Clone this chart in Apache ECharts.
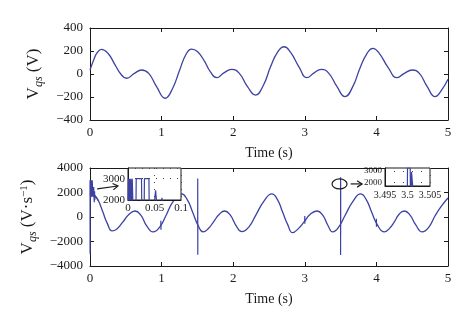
<!DOCTYPE html>
<html>
<head>
<meta charset="utf-8">
<script src="https://cdn.jsdelivr.net/npm/echarts@6/dist/echarts.min.js"></script>
<style>
  html, body { margin: 0; padding: 0; background: #fff; }
  #chart { width: 474px; height: 330px; }
</style>
</head>
<body>
<div id="chart"></div>
<script>
// Stator q-axis voltage V_qs (V) against time (s)
const topTime = [0, 0.05, 0.1, 0.16, 0.25, 0.35, 0.43, 0.51, 0.62, 0.72, 0.82, 0.93, 1.05, 1.15, 1.25, 1.34, 1.42, 1.5, 1.6, 1.68, 1.77, 1.87, 1.98, 2.08, 2.2, 2.31, 2.42, 2.52, 2.62, 2.71, 2.8, 2.92, 3.03, 3.13, 3.23, 3.33, 3.45, 3.56, 3.67, 3.77, 3.87, 3.95, 4.04, 4.16, 4.29, 4.39, 4.5, 4.6, 4.71, 4.82, 4.91, 5];
const topVolt = [35, 120, 185, 215, 180, 80, 0, -37, 5, 35, 5, -110, -211, -130, 30, 170, 217, 195, 110, 20, -32, 10, 40, 10, -110, -183, -100, 60, 190, 237, 190, 60, -32, 10, 41, 10, -110, -197, -110, 50, 180, 223, 180, 60, -32, 5, 35, 5, -110, -197, -140, -46];

// Rate of change of V_qs (V·s^-1), smooth part
const rateTime = [0.07, 0.12, 0.18, 0.24, 0.31, 0.38, 0.46, 0.55, 0.63, 0.71, 0.79, 0.88, 0.97, 1.06, 1.16, 1.28, 1.36, 1.43, 1.51, 1.58, 1.66, 1.73, 1.81, 1.88, 1.96, 2.04, 2.12, 2.22, 2.32, 2.43, 2.54, 2.62, 2.69, 2.76, 2.83, 2.91, 2.99, 3.08, 3.17, 3.25, 3.32, 3.39, 3.47, 3.56, 3.67, 3.78, 3.86, 3.93, 4.01, 4.11, 4.18, 4.25, 4.32, 4.39, 4.47, 4.55, 4.64, 4.73, 4.82, 4.91, 5];
const rateValue = [1750, 1300, 400, -500, -1140, -950, -400, 250, 490, 150, -700, -1220, -850, 100, 1250, 1880, 1400, 450, -700, -1220, -900, -350, 250, 490, 150, -700, -1200, -800, 200, 1300, 1880, 1400, 400, -600, -1280, -950, -400, 250, 490, 150, -650, -1220, -850, 100, 1250, 1880, 1400, 450, -600, -1220, -950, -400, 250, 490, 150, -650, -1220, -850, 100, 900, 1550];

// Switching transients in the rate signal: [time, value]
const burstStart = [[0, 1750], [0.0008, 3000], [0.0012, -3000], [0.0016, 3000], [0.0025, 1500], [0.003, 3000], [0.0045, 3000], [0.005, 1500], [0.0055, 3000], [0.007, 3000], [0.0075, 1500], [0.008, 3000], [0.009, 3000], [0.0095, 1600], [0.015, 1650], [0.0155, 3000], [0.0255, 3000], [0.026, 1650], [0.0305, 1650], [0.031, 3000], [0.0395, 3000], [0.04, 1650], [0.049, 1650], [0.052, 2450], [0.055, 1650], [0.06, 1200], [0.064, 2100], [0.067, 1400], [0.07, 1750], [0.12, 1300]];
const spike1s = [[0.989, -660], [0.99, -300], [0.991, -1050], [0.992, -650]];
const spike15s = [[1.504, -620], [1.5045, 3150], [1.5055, -3080], [1.506, -640]];
const spike3s = [[2.999, -340], [2.9995, 80], [3.0005, -550], [3.001, -330]];
const spike35s = [[3.4996, -540], [3.4999, -3100], [3.5, 3250], [3.5006, 3250], [3.5007, -1500], [3.5009, 2900], [3.5016, -500]];
const spike4s = [[3.999, -470], [3.9995, -150], [4.0005, -800], [4.001, -480]];

// Axis ticks
const timeTicks = [0, 1, 2, 3, 4, 5];
const voltTicks = [-400, -200, 0, 200, 400];
const rateTicks = [-4000, -2000, 0, 2000, 4000];
const zoomStartTicks = [0, 0.05, 0.1];
const zoomStartLevels = [2000, 3000];
const zoomSpikeTicks = [3.495, 3.5, 3.505];
const zoomSpikeLevels = [2000, 3000];

const INK = '#1a1a1a';
const LINE = '#3c42a2';
const SERIF = '"Liberation Serif", "DejaVu Serif", serif';

const pairs = (xs, ys) => xs.map((x, i) => [x, ys[i]]);
const minus = v => (v < 0 ? '\u2212' + Math.abs(v) : String(v));
const plain = v => String(+v.toFixed(3));

function mainX(grid, withName) {
  return {
    type: 'value', gridIndex: grid,
    min: timeTicks[0], max: timeTicks[timeTicks.length - 1],
    interval: timeTicks[1] - timeTicks[0],
    axisLine: { onZero: false, lineStyle: { color: INK, width: 1 } },
    axisTick: { inside: true, length: 4, lineStyle: { color: INK } },
    axisLabel: { color: INK, fontFamily: SERIF, fontSize: 13, margin: 6 },
    splitLine: { show: false },
    name: withName ? 'Time (s)' : '',
    nameLocation: 'middle', nameGap: 26,
    nameTextStyle: { color: INK, fontFamily: SERIF, fontSize: 14 }
  };
}
function mainXTop(grid) {
  return {
    type: 'value', gridIndex: grid, position: 'top',
    min: timeTicks[0], max: timeTicks[timeTicks.length - 1],
    interval: timeTicks[1] - timeTicks[0],
    axisLine: { onZero: false, lineStyle: { color: INK, width: 1 } },
    axisTick: { inside: true, length: 4, lineStyle: { color: INK } },
    axisLabel: { show: false }, splitLine: { show: false }
  };
}
function mainY(grid, ticks, name, gap, right) {
  return {
    type: 'value', gridIndex: grid, position: right ? 'right' : 'left',
    min: ticks[0], max: ticks[ticks.length - 1], interval: ticks[1] - ticks[0],
    axisLine: { show: true, onZero: false, lineStyle: { color: INK, width: 1 } },
    axisTick: { show: true, inside: true, length: 4, lineStyle: { color: INK } },
    axisLabel: right ? { show: false } : { color: INK, fontFamily: SERIF, fontSize: 13, margin: 7, formatter: minus },
    splitLine: { show: false },
    name: right ? '' : name, nameLocation: 'middle', nameRotate: 90, nameGap: gap,
    nameTextStyle: {
      color: INK,
      rich: {
        v: { fontFamily: SERIF, fontSize: 17, lineHeight: 20, verticalAlign: 'top', color: INK },
        s: { fontFamily: SERIF, fontSize: 12, fontStyle: 'italic', verticalAlign: 'bottom', color: INK },
        p: { fontFamily: SERIF, fontSize: 11, verticalAlign: 'top', color: INK }
      }
    }
  };
}

const dotted = { show: true, lineStyle: { color: '#444', width: 1, type: [1, 6] } };

const option = {
  animation: false,
  backgroundColor: '#fff',
  grid: [
    { left: 90, top: 28, width: 358, height: 92 },
    { left: 90, top: 168, width: 358, height: 98 },
    { left: 128, top: 168, width: 53, height: 32, z: 10, show: true, backgroundColor: '#fff', borderColor: INK, borderWidth: 1 },
    { left: 385, top: 168, width: 45, height: 18, z: 10, show: true, backgroundColor: '#fff', borderColor: INK, borderWidth: 1 }
  ],
  xAxis: [
    mainX(0, true), mainXTop(0), mainX(1, true), mainXTop(1),
    {
      type: 'value', gridIndex: 2, z: 11,
      min: zoomStartTicks[0], max: zoomStartTicks[zoomStartTicks.length - 1],
      interval: zoomStartTicks[1] - zoomStartTicks[0],
      axisLine: { onZero: false, lineStyle: { color: INK } }, axisTick: { show: false },
      axisLabel: { color: INK, fontFamily: SERIF, fontSize: 11, margin: 3, formatter: plain },
      splitLine: dotted
    },
    {
      type: 'value', gridIndex: 3, z: 11,
      min: zoomSpikeTicks[0], max: zoomSpikeTicks[zoomSpikeTicks.length - 1],
      interval: 0.005,
      axisLine: { onZero: false, lineStyle: { color: INK } }, axisTick: { show: false },
      axisLabel: { color: INK, fontFamily: SERIF, fontSize: 10, margin: 4, formatter: plain },
      splitLine: dotted
    }
  ],
  yAxis: [
    mainY(0, voltTicks, '{v|V}{s|qs}{v| (V)}', 31, false),
    mainY(0, voltTicks, '', 0, true),
    mainY(1, rateTicks, '{v|V}{s|qs}{v| (V\u00b7s}{p|\u22121}{v|)}', 40, false),
    mainY(1, rateTicks, '', 0, true),
    {
      type: 'value', gridIndex: 2, z: 11,
      min: zoomStartLevels[0], max: 3500, interval: zoomStartLevels[1] - zoomStartLevels[0],
      axisLine: { show: true, onZero: false, lineStyle: { color: INK } }, axisTick: { show: false },
      axisLabel: { color: INK, fontFamily: SERIF, fontSize: 11, margin: 3, formatter: plain },
      splitLine: dotted
    },
    {
      type: 'value', gridIndex: 3, z: 11,
      min: 1700, max: 3250,
      axisLine: { show: true, onZero: false, lineStyle: { color: INK } },
      axisTick: { show: false, customValues: zoomSpikeLevels },
      axisLabel: { color: INK, fontFamily: SERIF, fontSize: 9, margin: 3, customValues: zoomSpikeLevels, formatter: plain },
      splitLine: { show: true, lineStyle: { color: '#444', width: 1, type: [1, 8] } }
    }
  ],
  series: [
    {
      type: 'line', xAxisIndex: 0, yAxisIndex: 0, data: pairs(topTime, topVolt),
      smooth: 0.5, showSymbol: false, lineStyle: { color: LINE, width: 1.3 }
    },
    {
      type: 'line', xAxisIndex: 2, yAxisIndex: 2, data: pairs(rateTime, rateValue),
      smooth: 0.5, showSymbol: false, lineStyle: { color: LINE, width: 1.3 }
    },
    ...[burstStart, spike1s, spike15s, spike3s, spike35s, spike4s].map(d => ({
      type: 'line', xAxisIndex: 2, yAxisIndex: 2, data: d,
      showSymbol: false, lineStyle: { color: LINE, width: 1.2 }
    })),
    {
      type: 'line', xAxisIndex: 4, yAxisIndex: 4, data: burstStart, z: 12,
      showSymbol: false, lineStyle: { color: LINE, width: 1.2 }
    },
    {
      type: 'line', xAxisIndex: 5, yAxisIndex: 5, data: spike35s, z: 12,
      showSymbol: false, lineStyle: { color: LINE, width: 1.2 }
    }
  ]
};

const chart = echarts.init(document.getElementById('chart'), null, { renderer: 'canvas' });
chart.setOption(option);

// Annotation arrows and the ellipse around the 3.5 s spike
const px = (x, y) => chart.convertToPixel({ xAxisIndex: 2, yAxisIndex: 2 }, [x, y]);
function arrow(from, to) {
  const dx = to[0] - from[0], dy = to[1] - from[1];
  const len = Math.hypot(dx, dy), ux = dx / len, uy = dy / len;
  const nx = -uy, ny = ux, h = 5, w = 3.2;
  return [
    { type: 'line', z: 100, shape: { x1: from[0], y1: from[1], x2: to[0], y2: to[1] }, style: { stroke: INK, lineWidth: 1.2 } },
    { type: 'polyline', z: 100, shape: { points: [[to[0] - h * ux + w * nx, to[1] - h * uy + w * ny], to, [to[0] - h * ux - w * nx, to[1] - h * uy - w * ny]] }, style: { stroke: INK, lineWidth: 1.2, fill: null } }
  ];
}
const ringC = px(3.485, 2700);
chart.setOption({
  graphic: [
    ...arrow(px(0.1, 2300), px(0.39, 2530)),
    { type: 'ellipse', z: 100, shape: { cx: ringC[0], cy: ringC[1], rx: 7.5, ry: 5 }, style: { stroke: INK, lineWidth: 1.2, fill: null } },
    ...arrow(px(3.64, 2700), px(3.8, 2700))
  ]
});
</script>
</body>
</html>
